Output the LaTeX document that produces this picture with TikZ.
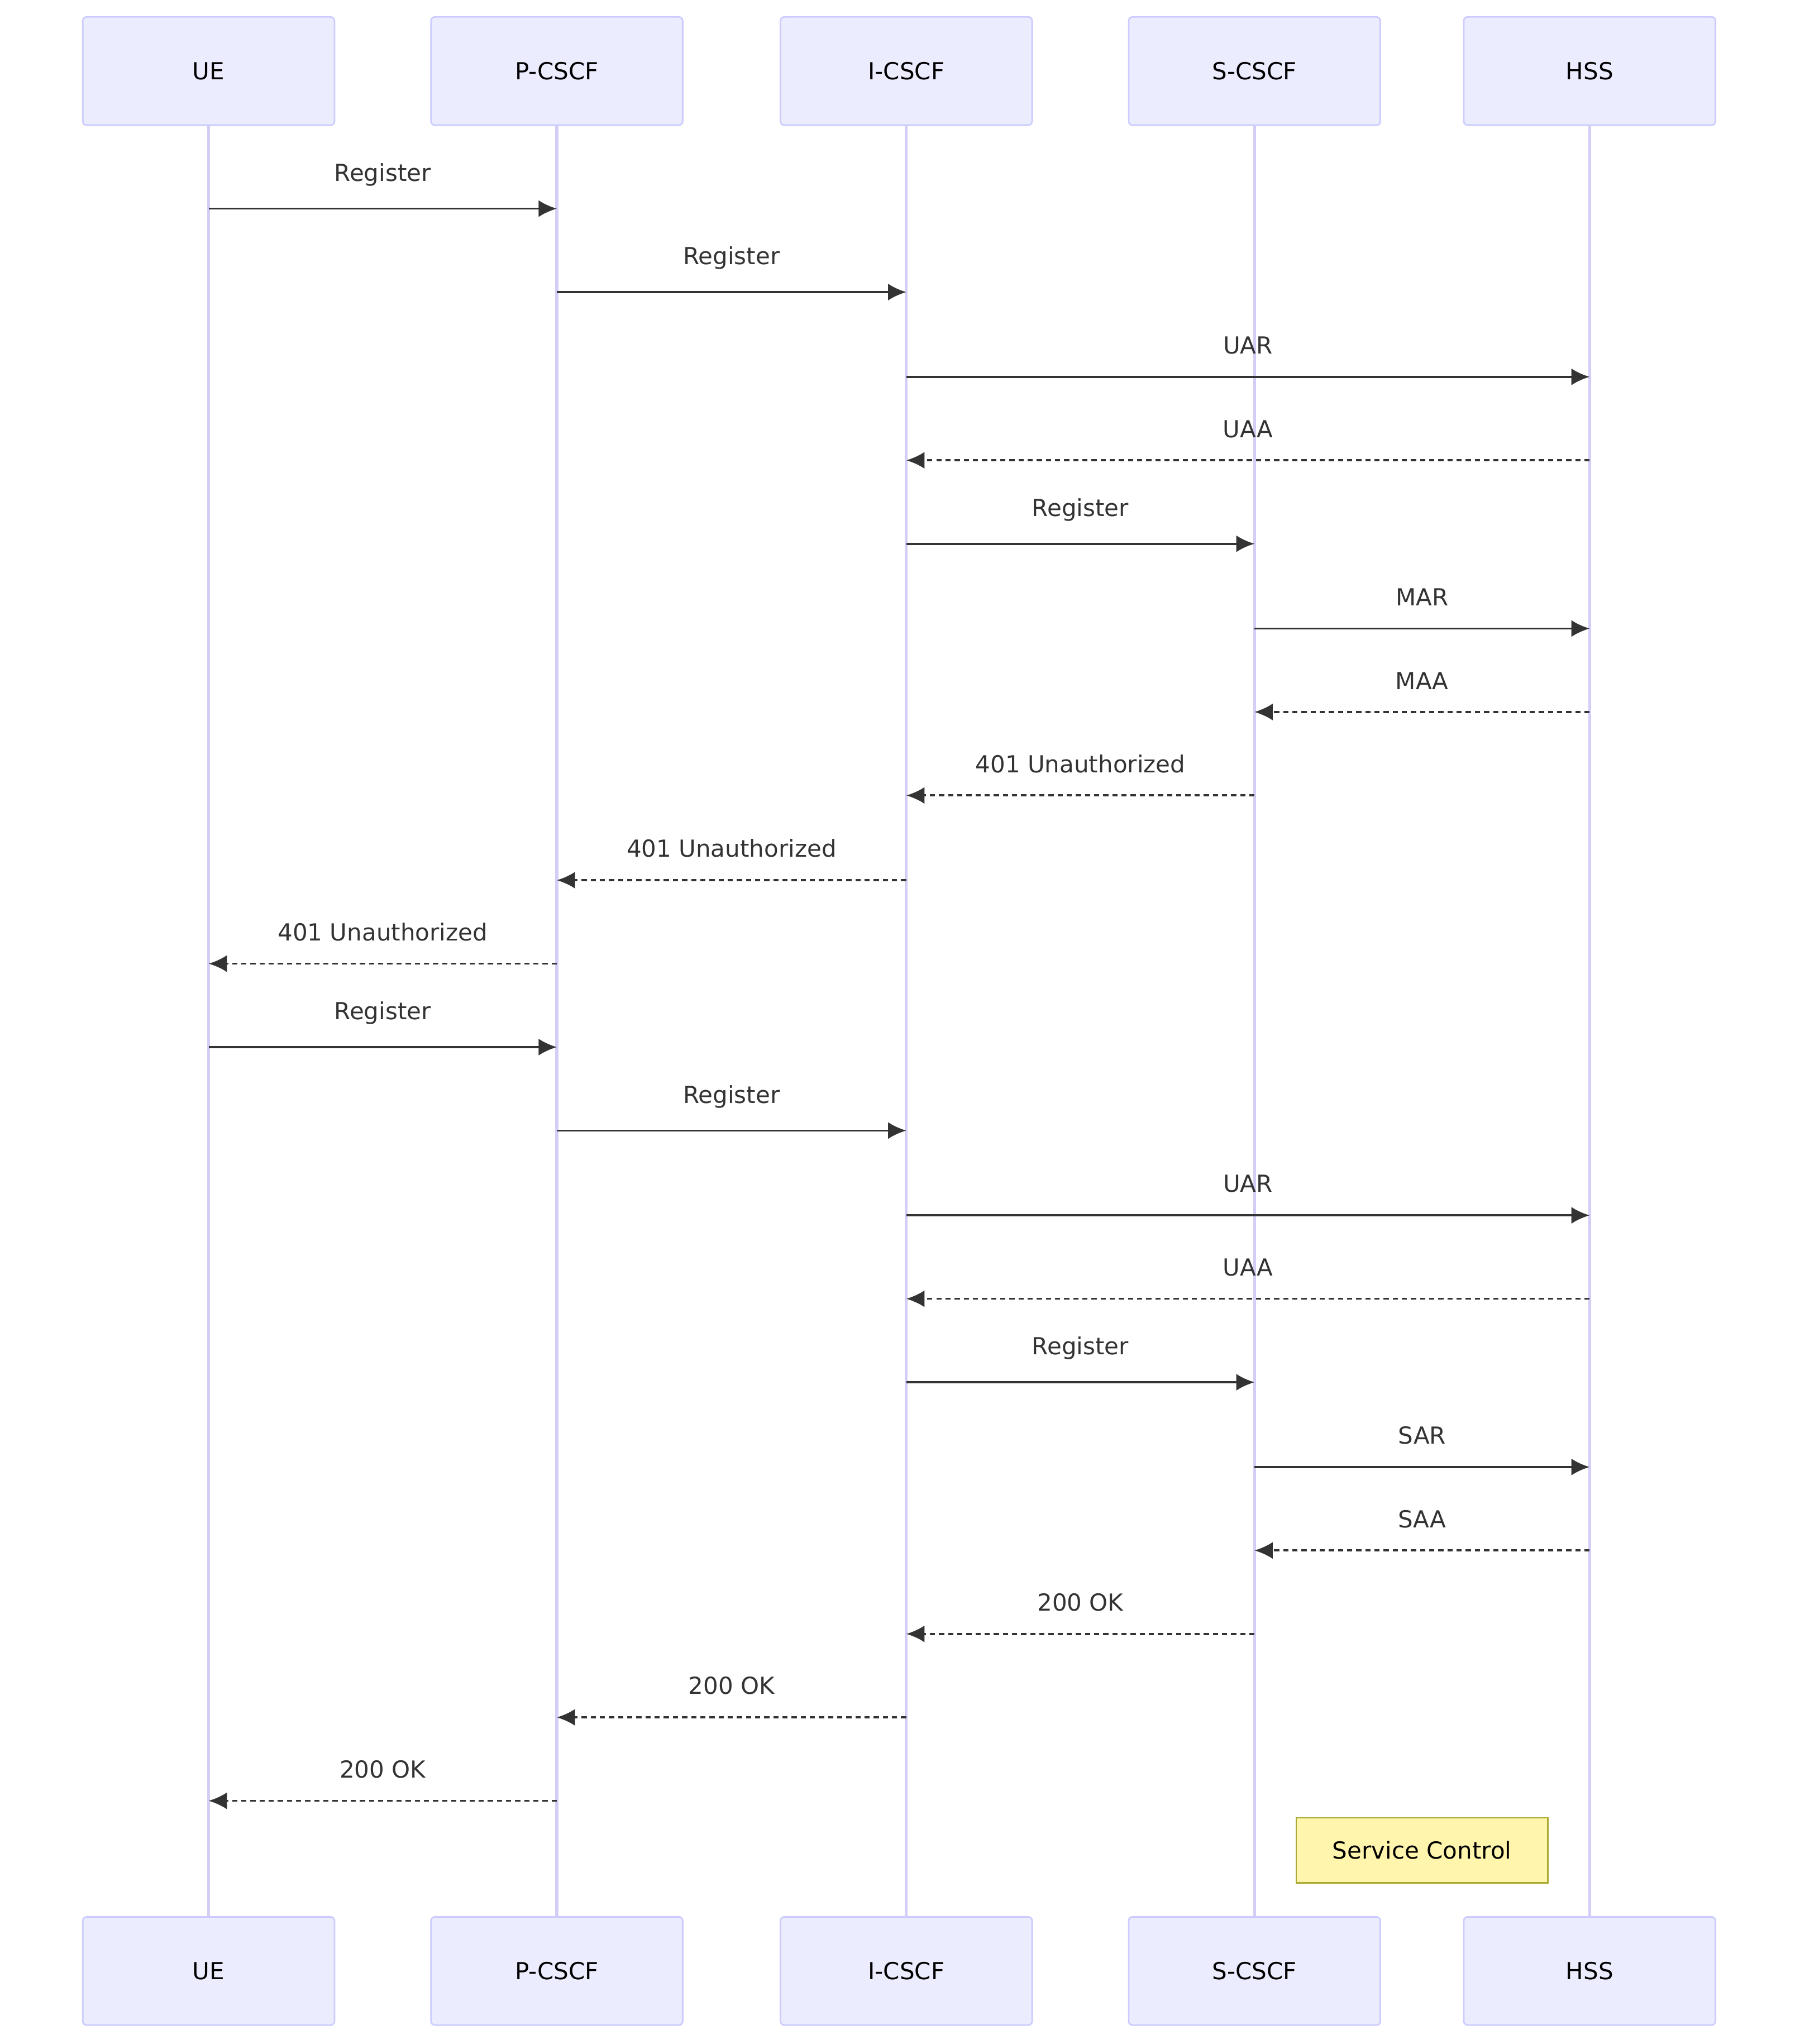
\documentclass[tikz,border=0pt]{standalone}
\usepackage{fontspec}
\setmainfont{DejaVu Sans}
\usetikzlibrary{arrows.meta,calc}
\definecolor{actfill}{HTML}{ECECFF}
\definecolor{actdraw}{HTML}{CCCCFF}
\definecolor{life}{HTML}{D5CDF5}
\definecolor{notefill}{HTML}{FFF5AD}
\definecolor{notedraw}{HTML}{AAAA33}
\definecolor{ink}{HTML}{333333}
\tikzset{
 actor/.style={draw=actdraw,fill=actfill,rounded corners=1.5pt,minimum width=96.5pt,minimum height=41.5pt,font=\fontsize{9}{11}\selectfont,text=black,line width=0.6pt},
 msg/.style={draw=ink,line width=0.8pt,-{Latex[length=7pt,width=6.5pt]}},
 reply/.style={msg,dash pattern=on 2pt off 1.5pt},
 lbl/.style={font=\fontsize{9}{11}\selectfont,text=ink,anchor=south,inner sep=0pt}
}
\begin{document}
\begin{tikzpicture}[x=0.5pt,y=-0.5pt]
\useasboundingbox (0,0) rectangle (1380,1567.5);
\foreach \n/\x/\t in {ue/160/UE,p/427/P-CSCF,i/695/I-CSCF,s/962/S-CSCF,h/1219/HSS}{
 \draw[life,line width=1.1pt] (\x,96) -- (\x,1470);
 \node[actor] (\n top) at (\x,54.5) {\t};
 \node[actor] (\n bot) at (\x,1511.5) {\t};
 \coordinate (\n) at (\x,0);
}
\foreach \y/\a/\b/\s/\t in {
160/ue/p/msg/Register,
224/p/i/msg/Register,
289/i/h/msg/UAR,
353/h/i/reply/UAA,
417/i/s/msg/Register,
482/s/h/msg/MAR,
546/h/s/reply/MAA,
610/s/i/reply/401 Unauthorized,
675/i/p/reply/401 Unauthorized,
739/p/ue/reply/401 Unauthorized,
803/ue/p/msg/Register,
867/p/i/msg/Register,
932/i/h/msg/UAR,
996/h/i/reply/UAA,
1060/i/s/msg/Register,
1125/s/h/msg/SAR,
1189/h/s/reply/SAA,
1253/s/i/reply/200 OK,
1317/i/p/reply/200 OK,
1381/p/ue/reply/200 OK}{
 \draw[\s] (\a |- 0,\y) coordinate (ma) -- (\b |- 0,\y) coordinate (mb);
 \node[lbl] at ($(ma)!0.5!(mb)+(0,-17)$) {\t};
}
\node[draw=notedraw,fill=notefill,minimum width=96.5pt,minimum height=25pt,font=\fontsize{9}{11}\selectfont,text=black,line width=0.6pt] (note) at (1090.5,1419) {Service Control};
\end{tikzpicture}
\end{document}
